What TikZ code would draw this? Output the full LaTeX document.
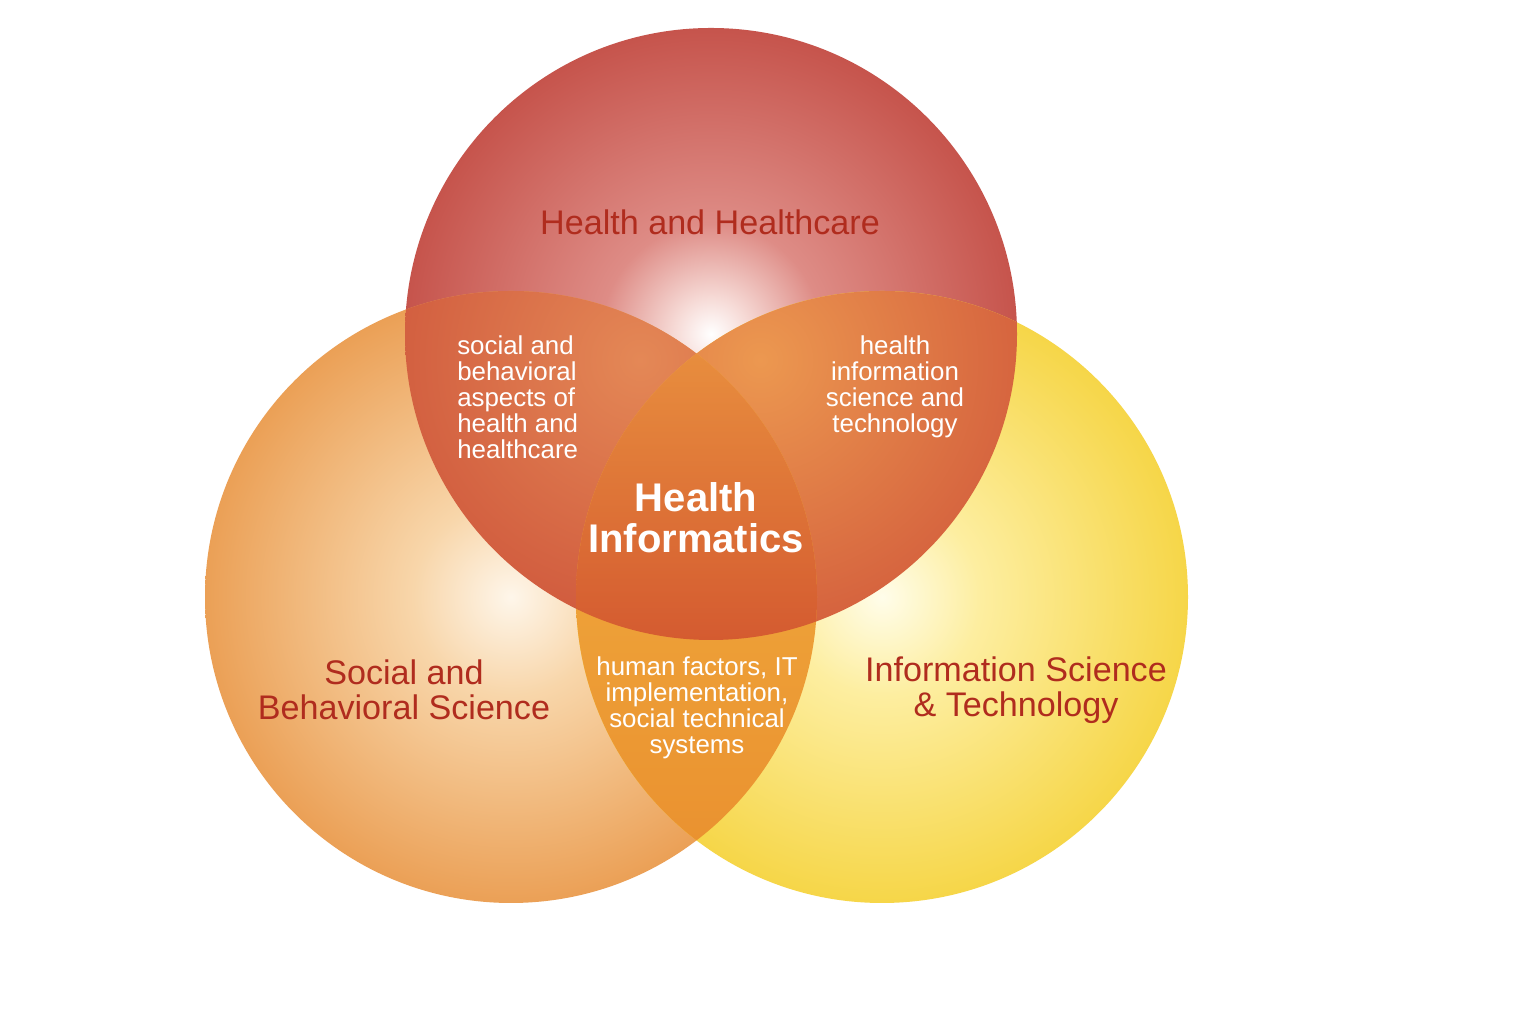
\documentclass[tikz,border=0pt]{standalone}
\usepackage{fontspec}
\setmainfont{Liberation Sans}
\usepackage{tikz}

\definecolor{titlered}{RGB}{176,44,30}
\definecolor{hhcore}{RGB}{246,218,214}
\definecolor{hhmid}{RGB}{222,140,134}
\definecolor{hhedge}{RGB}{198,84,76}
\definecolor{sbcore}{RGB}{254,246,234}
\definecolor{sbmid}{RGB}{248,214,170}
\definecolor{sbedge}{RGB}{235,160,86}
\definecolor{iscore}{RGB}{255,253,234}
\definecolor{ismid}{RGB}{253,238,160}
\definecolor{isedge}{RGB}{246,214,72}
\definecolor{tlin}{RGB}{228,136,86}
\definecolor{tlout}{RGB}{204,80,56}
\definecolor{trin}{RGB}{236,152,80}
\definecolor{trout}{RGB}{208,86,58}
\definecolor{bottop}{RGB}{242,176,64}
\definecolor{botbot}{RGB}{234,146,48}
\definecolor{midtop}{RGB}{232,142,62}
\definecolor{midbot}{RGB}{212,90,48}

\pgfdeclareradialshading{hhball}{\pgfpoint{0bp}{0bp}}{color(0bp)=(white); color(3bp)=(hhcore); color(9bp)=(hhmid); color(25bp)=(hhedge); color(50bp)=(hhedge)}
\pgfdeclareradialshading{sbball}{\pgfpoint{0bp}{0bp}}{color(0bp)=(sbcore); color(8bp)=(sbmid); color(25bp)=(sbedge); color(50bp)=(sbedge)}
\pgfdeclareradialshading{isball}{\pgfpoint{0bp}{0bp}}{color(0bp)=(iscore); color(8bp)=(ismid); color(25bp)=(isedge); color(50bp)=(isedge)}

\begin{document}
\begin{tikzpicture}[x=0.75pt,y=0.75pt]
\tikzstyle{every node}+=[inner sep=0pt]
\tikzstyle{title}=[text=titlered,font=\fontsize{25.6}{26.3}\selectfont,align=center]
\tikzstyle{lens}=[text=white,font=\fontsize{19.4}{19.5}\selectfont,align=center]
\useasboundingbox (0,0) rectangle (1536,1012);
\fill [white] (0,0) rectangle (1536,1012);
\coordinate (ctop) at (711,678);
\coordinate (cleft) at (511,415);
\coordinate (cright) at (882,415);
\shade [shading=hhball] (ctop) circle (306);
\shade [shading=sbball] (cleft) circle (306);
\shade [shading=isball] (cright) circle (306);
\begin{scope}
\clip (ctop) circle (306);
\clip (cleft) circle (306);
\shade [inner color=tlin,outer color=tlout] (640,652) circle (330);
\end{scope}
\begin{scope}
\clip (ctop) circle (306);
\clip (cright) circle (306);
\shade [inner color=trin,outer color=trout] (760,652) circle (330);
\end{scope}
\begin{scope}
\clip (cleft) circle (306);
\clip (cright) circle (306);
\shade [top color=bottop,bottom color=botbot] (560,170) rectangle (840,665);
\clip (ctop) circle (306);
\shade [top color=midtop,bottom color=midbot] (560,368) rectangle (840,662);
\end{scope}
\node [title] (hh) at (710,790) {Health and Healthcare};
\node [title] (sbs) at (404,322) {Social and\\Behavioral Science};
\node [title] (ist) at (1016,322) {Information Science\\\& Technology};
\node [lens,align=left,anchor=west] (sbh) at (457,615) {social and\\behavioral\\aspects of\\health and\\healthcare};
\node [lens] (hist) at (895,625) {health\\information\\science and\\technology};
\node [lens] (hf) at (697,304) {human factors, IT\\implementation,\\social technical\\systems};
\node [text=white,font=\bfseries\fontsize{30}{30.8}\selectfont,align=center] (hi) at (696,494) {Health\\Informatics};
\end{tikzpicture}
\end{document}
